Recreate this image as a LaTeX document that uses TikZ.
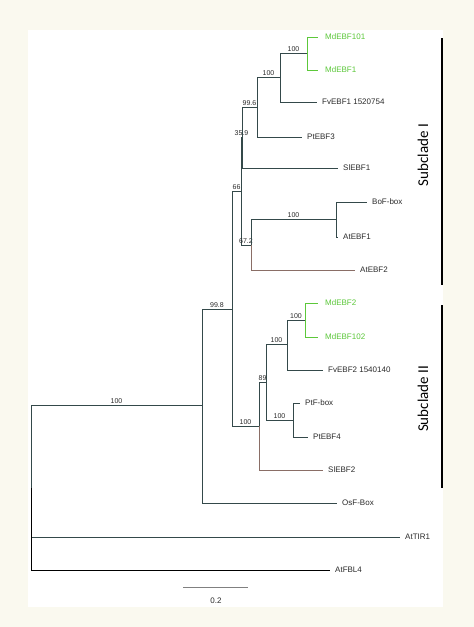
\documentclass[tikz,border=0pt]{standalone}
\usepackage{fontspec}
\setmainfont{Liberation Sans}
\newfontfamily\cladefont{Carlito}
\usepackage{tikz}
\usetikzlibrary{positioning}
\definecolor{treegray}{HTML}{34494A}
\definecolor{mdgreen}{HTML}{5CC83A}
\definecolor{rustgray}{HTML}{8A6E66}
\definecolor{papercream}{HTML}{FAF9EF}
\definecolor{labelgray}{HTML}{2B2B2B}

\begin{document}
\begin{tikzpicture}[x=1pt, y=-1pt,
  branch/.style={draw=treegray, line width=0.9pt},
  boot/.style={above, inner sep=1pt, font=\fontsize{7}{8}\selectfont, text=labelgray},
  leaf/.style={inner sep=1pt, font=\fontsize{8}{9}\selectfont, text=labelgray},
  clade/.style={rotate=90, font=\cladefont\fontsize{15}{16}\selectfont}]
  \useasboundingbox (0,0) rectangle (474,627);
  \fill[papercream] (0,0) rectangle (474,627);
  \fill[white] (28,30) rectangle (443,607);
  % internal nodes
  \coordinate (r) at (31,488);
  \coordinate (a) at (202,405);
  \coordinate (b) at (232,309);
  \coordinate (c) at (241,191);
  \coordinate (e) at (242,137.5);
  \coordinate (g) at (257,107);
  \coordinate (h) at (280,77.5);
  \coordinate (i) at (307,53.5);
  \coordinate (f) at (251,245);
  \coordinate (j) at (336,219.5);
  \coordinate (d) at (259,426);
  \coordinate (k) at (266,382.5);
  \coordinate (l) at (287,344.5);
  \coordinate (n) at (305,320);
  \coordinate (m) at (293,420);
  % tips
  \coordinate (md101) at (318,37);
  \coordinate (md1) at (318,70);
  \coordinate (fv1) at (317,102);
  \coordinate (pt3) at (302,137);
  \coordinate (sl1) at (338,168);
  \coordinate (bof) at (367,202);
  \coordinate (at1) at (338,237);
  \coordinate (at2) at (355,270);
  \coordinate (md2) at (318,303);
  \coordinate (md102) at (318,337);
  \coordinate (fv2) at (323,370);
  \coordinate (ptf) at (300,403);
  \coordinate (pt4) at (308,437);
  \coordinate (sl2) at (323,470);
  \coordinate (osf) at (337,503);
  \coordinate (tir1) at (400,537);
  \coordinate (fbl4) at (330,570);
  % inner branches with support values
  \foreach \p/\c/\bs in {r/a/100, a/b/99.8, b/c/66, b/d/100, c/e/35.9, c/f/67.2,
    e/g/99.6, g/h/100, h/i/100, f/j/100, d/k/89, k/l/100, k/m/100, l/n/100} {
    \draw[branch] (\p) |- node[boot, pos=0.75] (bs-\c) {\bs} (\c);
  }
  % terminal branches
  \foreach \p/\t in {r/tir1, a/osf, e/sl1, g/pt3, h/fv1, j/bof, j/at1, l/fv2, m/ptf, m/pt4} {
    \draw[branch] (\p) |- (\t);
  }
  \draw[branch, draw=black] (r) |- (fbl4);
  \foreach \p/\t in {f/at2, d/sl2} {
    \draw[branch, draw=rustgray] (\p) |- (\t);
  }
  \foreach \p/\t in {i/md101, i/md1, n/md2, n/md102} {
    \draw[branch, draw=mdgreen] (\p) |- (\t);
  }
  % taxon labels
  \foreach \t/\txt in {fv1/FvEBF1 1520754, pt3/PtEBF3, sl1/SlEBF1, bof/BoF-box,
    at1/AtEBF1, at2/AtEBF2, fv2/FvEBF2 1540140, ptf/PtF-box, pt4/PtEBF4,
    sl2/SlEBF2, osf/OsF-Box, tir1/AtTIR1, fbl4/AtFBL4} {
    \node[leaf, right=4pt of \t] (lb-\t) {\txt};
  }
  \foreach \t/\txt in {md101/MdEBF101, md1/MdEBF1, md2/MdEBF2, md102/MdEBF102} {
    \node[leaf, text=mdgreen, right=6pt of \t] (lb-\t) {\txt};
  }
  % scale bar
  \coordinate (sb-l) at (183,587);
  \coordinate (sb-r) at (248,587);
  \draw[gray, line width=0.9pt] (sb-l) -- (sb-r);
  \node[leaf] (sb-lab) at (216,601) {0.2};
  % subclade bars
  \coordinate (cl1-t) at (442,38);
  \coordinate (cl1-b) at (442,285);
  \coordinate (cl2-t) at (442,305);
  \coordinate (cl2-b) at (442,488);
  \draw[line width=1.8pt] (cl1-t) -- (cl1-b);
  \draw[line width=1.8pt] (cl2-t) -- (cl2-b);
  \node[clade] (cl1) at (423,155) {Subclade I};
  \node[clade] (cl2) at (423,399) {Subclade II};
\end{tikzpicture}
\end{document}
